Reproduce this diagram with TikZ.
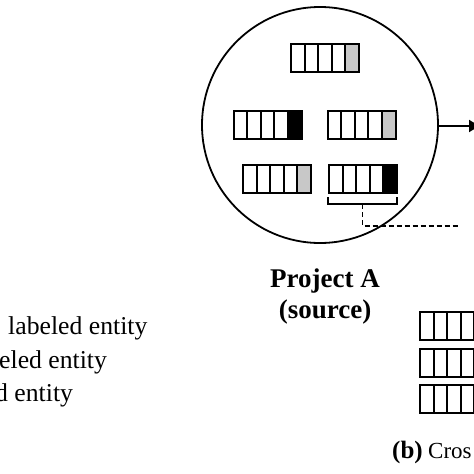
\documentclass[tikz,border=0pt]{standalone}
\usepackage{fontspec}
\setmainfont{Liberation Serif}
\usetikzlibrary{calc,arrows.meta}
\definecolor{lgrey}{RGB}{200,200,200}
\begin{document}
\begin{tikzpicture}[x=1pt,y=-1pt,
  entity/.style={draw, line width=2pt, minimum width=68pt, minimum height=28pt,
    inner sep=0pt, outer sep=0pt,
    path picture={
      \fill[#1] ([xshift=-13.6pt]path picture bounding box.north east) rectangle (path picture bounding box.south east);
      \foreach \i in {1,2,3,4}{\draw[line width=2pt] ([xshift=\i*13.6pt]path picture bounding box.north west) -- ([xshift=\i*13.6pt]path picture bounding box.south west);}
    }},
  entity/.default=white,
  conn/.style={line width=1.8pt},
  dashconn/.style={line width=1.2pt, dash pattern=on 5pt off 3pt},
  txt/.style={anchor=base west, inner sep=0pt, font=\fontsize{25.7}{30}\selectfont},
  title/.style={anchor=base, inner sep=0pt, font=\fontsize{27}{30}\selectfont\bfseries}
]
\useasboundingbox (0,0) rectangle (474,474);
\clip (0,0) rectangle (474,474);

% circle
\node[circle, draw, line width=1.8pt, minimum size=236pt, inner sep=0pt] (circ) at (320,125) {};

% entities inside circle
\node[entity=lgrey] (e1) at (325,58) {};
\node[entity=black] (e2) at (267.5,125) {};
\node[entity=lgrey] (e3) at (361.5,125) {};
\node[entity=lgrey] (e4) at (277,179) {};
\node[entity=black] (e5) at (363,179) {};

% bracket under e5 and dashed connector
\coordinate (bl) at (328,197);
\coordinate (br) at (397,197);
\coordinate (bm) at (362.5,204);
\coordinate (dcorner) at (362.5,226);
\coordinate (dend) at (459,226);
\draw[line width=1.6pt] (bl) -- (bl |- bm) -- (br |- bm) -- (br);
\draw[dashconn] (bm) -- (dcorner) -- (dend);

% arrow to the right
\coordinate (aend) at (482,126);
\draw[conn, -{Latex[length=13pt,width=13pt]}] (circ.east |- aend) -- (aend);

% title
\node[title] (pa) at (325,287) {Project A};
\node[title] (src) at (325,318) {(source)};

% right-hand entity column
\node[entity] (r1) at (454,326) {};
\node[entity] (r2) at (454,363) {};
\node[entity] (r3) at (454,399) {};

% left legend text (cut off at the left edge as in the reference)
\node[txt] (l1) at (8,334) {labeled entity};
\node[txt] (l2) at (-1,368) {eled entity};
\node[txt] (l3) at (-5,401) {d entity};

% caption
\node[anchor=base west, inner sep=0pt, font=\fontsize{25}{28}\selectfont\bfseries] (cb) at (392,458) {(b)};
\node[anchor=base west, inner sep=0pt, font=\fontsize{23}{26}\selectfont] (cc) at (428,458) {Cros};
\end{tikzpicture}
\end{document}
